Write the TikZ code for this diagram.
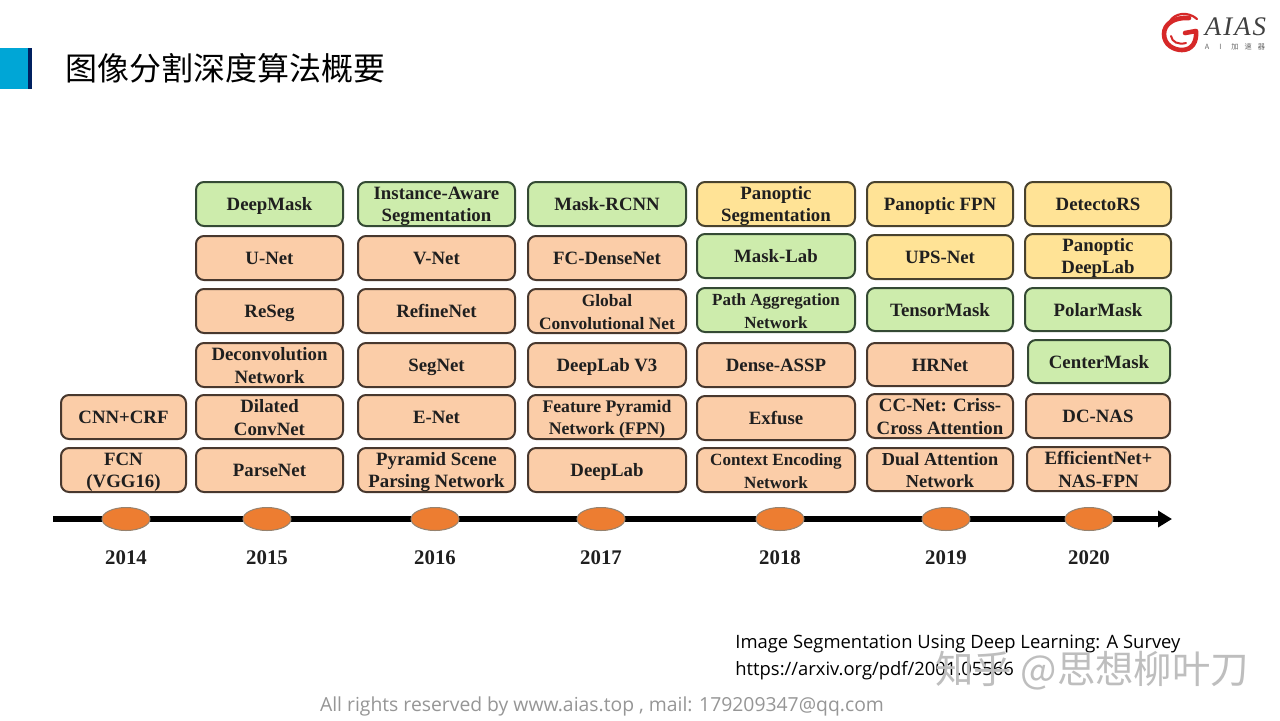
\documentclass[tikz,border=0pt]{standalone}
\usepackage{fontspec}
\setmainfont{Liberation Serif}
\newfontfamily\cjk{Noto Sans CJK SC}
\newfontfamily\uifont{Open Sans}
\usetikzlibrary{arrows.meta,shapes.geometric}
\definecolor{orgfill}{RGB}{251,205,168}
\definecolor{orgline}{RGB}{72,56,46}
\definecolor{grnfill}{RGB}{205,236,172}
\definecolor{grnline}{RGB}{52,74,52}
\definecolor{yelfill}{RGB}{255,227,150}
\definecolor{yelline}{RGB}{72,66,46}
\definecolor{dotfill}{RGB}{237,125,49}
\definecolor{dotline}{RGB}{150,130,110}
\definecolor{barcyan}{RGB}{0,166,214}
\definecolor{barnavy}{RGB}{0,32,96}
\definecolor{logored}{RGB}{214,40,40}
\definecolor{footgrey}{RGB}{150,150,150}
\definecolor{markgrey}{RGB}{190,190,190}
\tikzset{
  base/.style={rounded corners=4pt,line width=1pt,align=center,inner sep=0pt,
    text=black!88,font=\bfseries\fontsize{9.4}{11.3}\selectfont},
  org/.style={base,draw=orgline,fill=orgfill},
  grn/.style={base,draw=grnline,fill=grnfill},
  yel/.style={base,draw=yelline,fill=yelfill},
  yearlabel/.style={inner sep=0pt,text=black!88,font=\bfseries\fontsize{10.4}{12}\selectfont},
  dot/.style={ellipse,draw=dotline,fill=dotfill,line width=0.5pt,minimum width=24pt,minimum height=11.5pt,inner sep=0pt},
}
\newcommand{\sz}[2]{\fontsize{#1}{#2}\selectfont}
\newcommand{\topst}{\rule{0pt}{8.5pt}}
\newcommand{\botst}{\rule[-1.6pt]{0pt}{1.6pt}}
% box: style, name, x1, x2, y1, y2, text
\newcommand{\bx}[7]{%
  \pgfmathsetmacro{\bw}{(#4-#3)/2-1}%
  \pgfmathsetmacro{\bh}{(#6-#5)/2-1}%
  \node[#1,minimum width=\bw pt,minimum height=\bh pt] (#2) at ({(#3+#4)/2},{(#5+#6)/2}) {\topst #7\botst};}
\begin{document}
\begin{tikzpicture}[x=0.5pt,y=-0.5pt]
\useasboundingbox (0,0) rectangle (1280,720);
\fill[white] (0,0) rectangle (1280,720);
% header bar
\fill[barcyan] (0,48) rectangle (28,89);
\fill[barnavy] (28,48) rectangle (32,89);
\node[anchor=west,inner sep=0pt,font=\cjk\fontsize{16}{18}\selectfont] (title) at (65,68) {图像分割深度算法概要};
% logo
\draw[logored,line width=2.3pt,line cap=round,line join=round]
  (1189,18) .. controls (1174,17) and (1164,24) .. (1164,34)
  .. controls (1164,45) and (1174,50) .. (1182,50)
  .. controls (1192,50) and (1197,42) .. (1196,31) -- (1185,33);
\draw[logored,line width=1.1pt,line cap=round]
  (1170,21) .. controls (1175,13) and (1188,11) .. (1197,19);
\draw[logored,line width=1pt,line cap=round]
  (1171,36) .. controls (1172,42) and (1178,45) .. (1186,43);
\node[inner sep=0pt,text=black!75,font=\itshape\fontsize{13.4}{15}\selectfont] (logoname) at (1235.5,27) {A\kern1pt I\kern1pt A\kern1pt S};
\node[inner sep=0pt,text=black!60,font=\cjk\fontsize{3.6}{5}\selectfont] (logosub) at (1235,47) {A\hspace{5pt}I\hspace{5pt}加\hspace{3pt}速\hspace{3pt}器};
% 2014
\bx{org}{a5}{60}{187}{394}{440}{CNN+CRF}
\bx{org}{a6}{60}{187}{447}{493}{FCN\\(VGG16)}
% 2015
\bx{grn}{b1}{195}{344}{181}{227}{DeepMask}
\bx{org}{b2}{195}{344}{235}{281}{U-Net}
\bx{org}{b3}{195}{344}{288}{334}{ReSeg}
\bx{org}{b4}{195}{344}{342}{388}{Deconvolution\\Network}
\bx{org}{b5}{195}{344}{394}{440}{Dilated\\ConvNet}
\bx{org}{b6}{195}{344}{447}{493}{ParseNet}
% 2016
\bx{grn}{c1}{357}{516}{181}{227}{Instance-Aware\\Segmentation}
\bx{org}{c2}{357}{516}{235}{281}{V-Net}
\bx{org}{c3}{357}{516}{288}{334}{RefineNet}
\bx{org}{c4}{357}{516}{342}{388}{SegNet}
\bx{org}{c5}{357}{516}{394}{440}{E-Net}
\bx{org}{c6}{357}{516}{447}{493}{Pyramid Scene\\Parsing Network}
% 2017
\bx{grn}{d1}{527}{687}{181}{227}{Mask-RCNN}
\bx{org}{d2}{527}{687}{235}{281}{FC-DenseNet}
\bx{org}{d3}{527}{687}{288}{334}{\sz{8.7}{11}Global\\\sz{8.7}{11}Convolutional Net}
\bx{org}{d4}{527}{687}{342}{388}{DeepLab V3}
\bx{org}{d5}{527}{687}{394}{440}{\sz{8.85}{10.2}Feature Pyramid\\\sz{8.85}{10.2}Network (FPN)}
\bx{org}{d6}{527}{687}{447}{493}{DeepLab}
% 2018
\bx{yel}{e1}{696}{856}{181}{227}{Panoptic\\Segmentation}
\bx{grn}{e2}{696}{856}{233}{279}{Mask-Lab}
\bx{grn}{e3}{696}{856}{287}{333}{\sz{8.5}{10.4}Path Aggregation\\\sz{8.5}{10.4}Network}
\bx{org}{e4}{696}{856}{342}{388}{Dense-ASSP}
\bx{org}{e5}{696}{856}{395}{441}{Exfuse}
\bx{org}{e6}{696}{856}{447}{493}{\sz{8.55}{10.2}Context Encoding\\\sz{8.55}{10.2}Network}
% 2019
\bx{yel}{f1}{866}{1014}{181}{227}{Panoptic FPN}
\bx{yel}{f2}{866}{1014}{234}{280}{UPS-Net}
\bx{grn}{f3}{866}{1014}{287}{332}{TensorMask}
\bx{org}{f4}{866}{1014}{342}{387}{HRNet}
\bx{org}{f5}{866}{1014}{393}{439}{CC-Net: Criss-\\Cross Attention}
\bx{org}{f6}{866}{1014}{447}{492}{\sz{9.15}{11}Dual Attention\\\sz{9.15}{11}Network}
% 2020
\bx{yel}{g1}{1024}{1172}{181}{227}{DetectoRS}
\bx{yel}{g2}{1024}{1172}{233}{279}{Panoptic\\DeepLab}
\bx{grn}{g3}{1024}{1172}{287}{332}{PolarMask}
\bx{grn}{g4}{1027}{1171}{339}{384}{CenterMask}
\bx{org}{g5}{1025}{1171}{393}{439}{DC-NAS}
\bx{org}{g6}{1026}{1171}{446}{492}{EfficientNet+\\NAS-FPN}
% timeline
\coordinate (tstart) at (53,519);
\coordinate (tend) at (1172,519);
\draw[line width=2.6pt,-{Triangle[length=7pt,width=8pt]}] (tstart) -- (tend);
\foreach \nm/\x/\yr in {y14/126/2014,y15/267/2015,y16/435/2016,y17/601/2017,y18/780/2018,y19/946/2019,y20/1089/2020}{
  \node[dot] (\nm) at (\x,519) {};
  \node[yearlabel] (l\nm) at (\x,558) {\yr};
}
% citation
\node[anchor=west,inner sep=0pt,align=left,text=black,font=\uifont\fontsize{9.2}{13.5}\selectfont] (cite) at (735,657) {Image Segmentation Using Deep Learning: A Survey\\https://arxiv.org/pdf/2001.05566};
% watermark
\node[anchor=west,inner sep=0pt,text=markgrey,font=\cjk\fontsize{19.2}{21}\selectfont] (mark) at (935,671) {知乎 @思想柳叶刀};
% footer
\node[inner sep=0pt,text=footgrey,font=\uifont\fontsize{9.67}{12}\selectfont] (foot) at (602,706) {All rights reserved by www.aias.top , mail: 179209347@qq.com};
\end{tikzpicture}
\end{document}
